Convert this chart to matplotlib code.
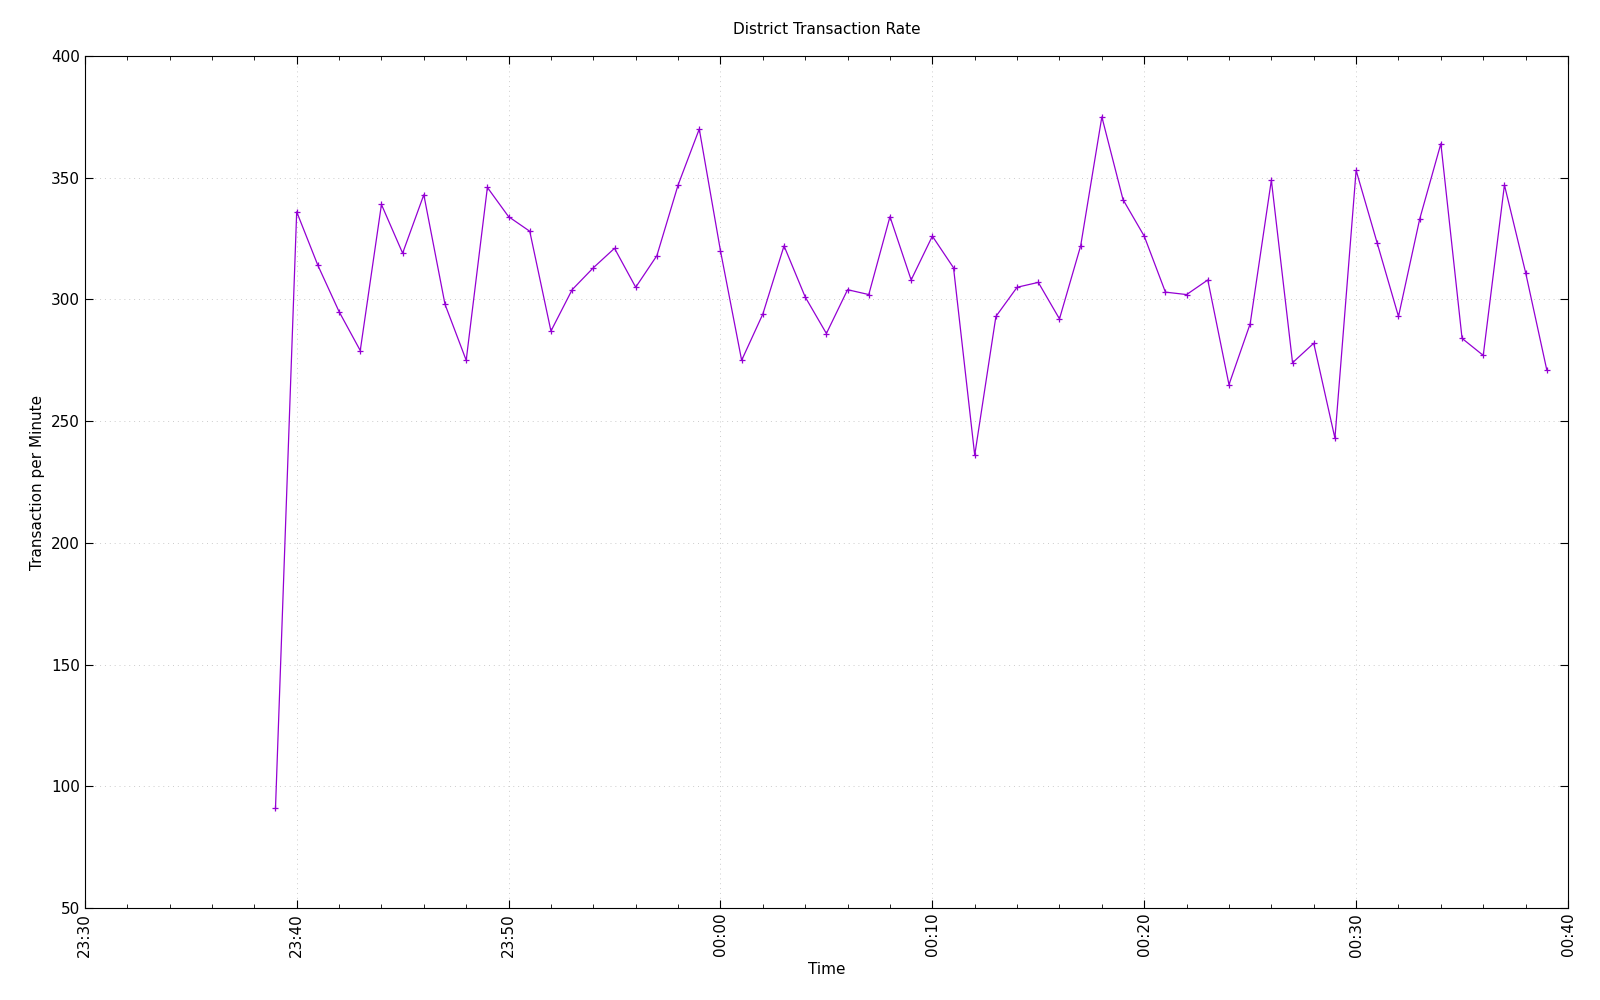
import matplotlib
matplotlib.use("Agg")
import matplotlib.pyplot as plt
from matplotlib.ticker import MultipleLocator

# minutes since 23:30
minutes = list(range(9, 70))
rates = [91, 336, 314, 295, 279, 339, 319, 343, 298, 275, 346, 334, 328, 287, 304,
         313, 321, 305, 318, 347, 370, 320, 275, 294, 322, 301, 286, 304, 302, 334,
         308, 326, 313, 236, 293, 305, 307, 292, 322, 375, 341, 326, 303, 302, 308,
         265, 290, 349, 274, 282, 243, 353, 323, 293, 333, 364, 284, 277, 347, 311, 271]
tick_pos = [0, 10, 20, 30, 40, 50, 60, 70]
tick_labels = ["23:30", "23:40", "23:50", "00:00", "00:10", "00:20", "00:30", "00:40"]

fig = plt.figure(figsize=(16, 10), dpi=100)
ax = fig.add_axes([0.053, 0.092, 0.927, 0.852])
ax.plot(minutes, rates, color="#9400D3", lw=0.9, marker="+", ms=5, mew=0.9)
ax.set_xlim(0, 70)
ax.set_ylim(50, 400)
ax.set_xticks(tick_pos)
ax.set_xticklabels(tick_labels, rotation=90)
ax.xaxis.set_minor_locator(MultipleLocator(2))
ax.set_yticks(range(50, 401, 50))
ax.tick_params(which="both", direction="in", top=True, right=True, labelsize=11)
ax.tick_params(which="major", length=6)
ax.tick_params(which="minor", length=3)
ax.grid(True, which="major", linestyle=(0, (1, 4)), color="#cccccc", lw=0.7)
ax.set_title("District Transaction Rate", fontsize=11, pad=16)
ax.set_xlabel("Time", fontsize=11)
ax.set_ylabel("Transaction per Minute", fontsize=11)
fig.savefig("out.png")
